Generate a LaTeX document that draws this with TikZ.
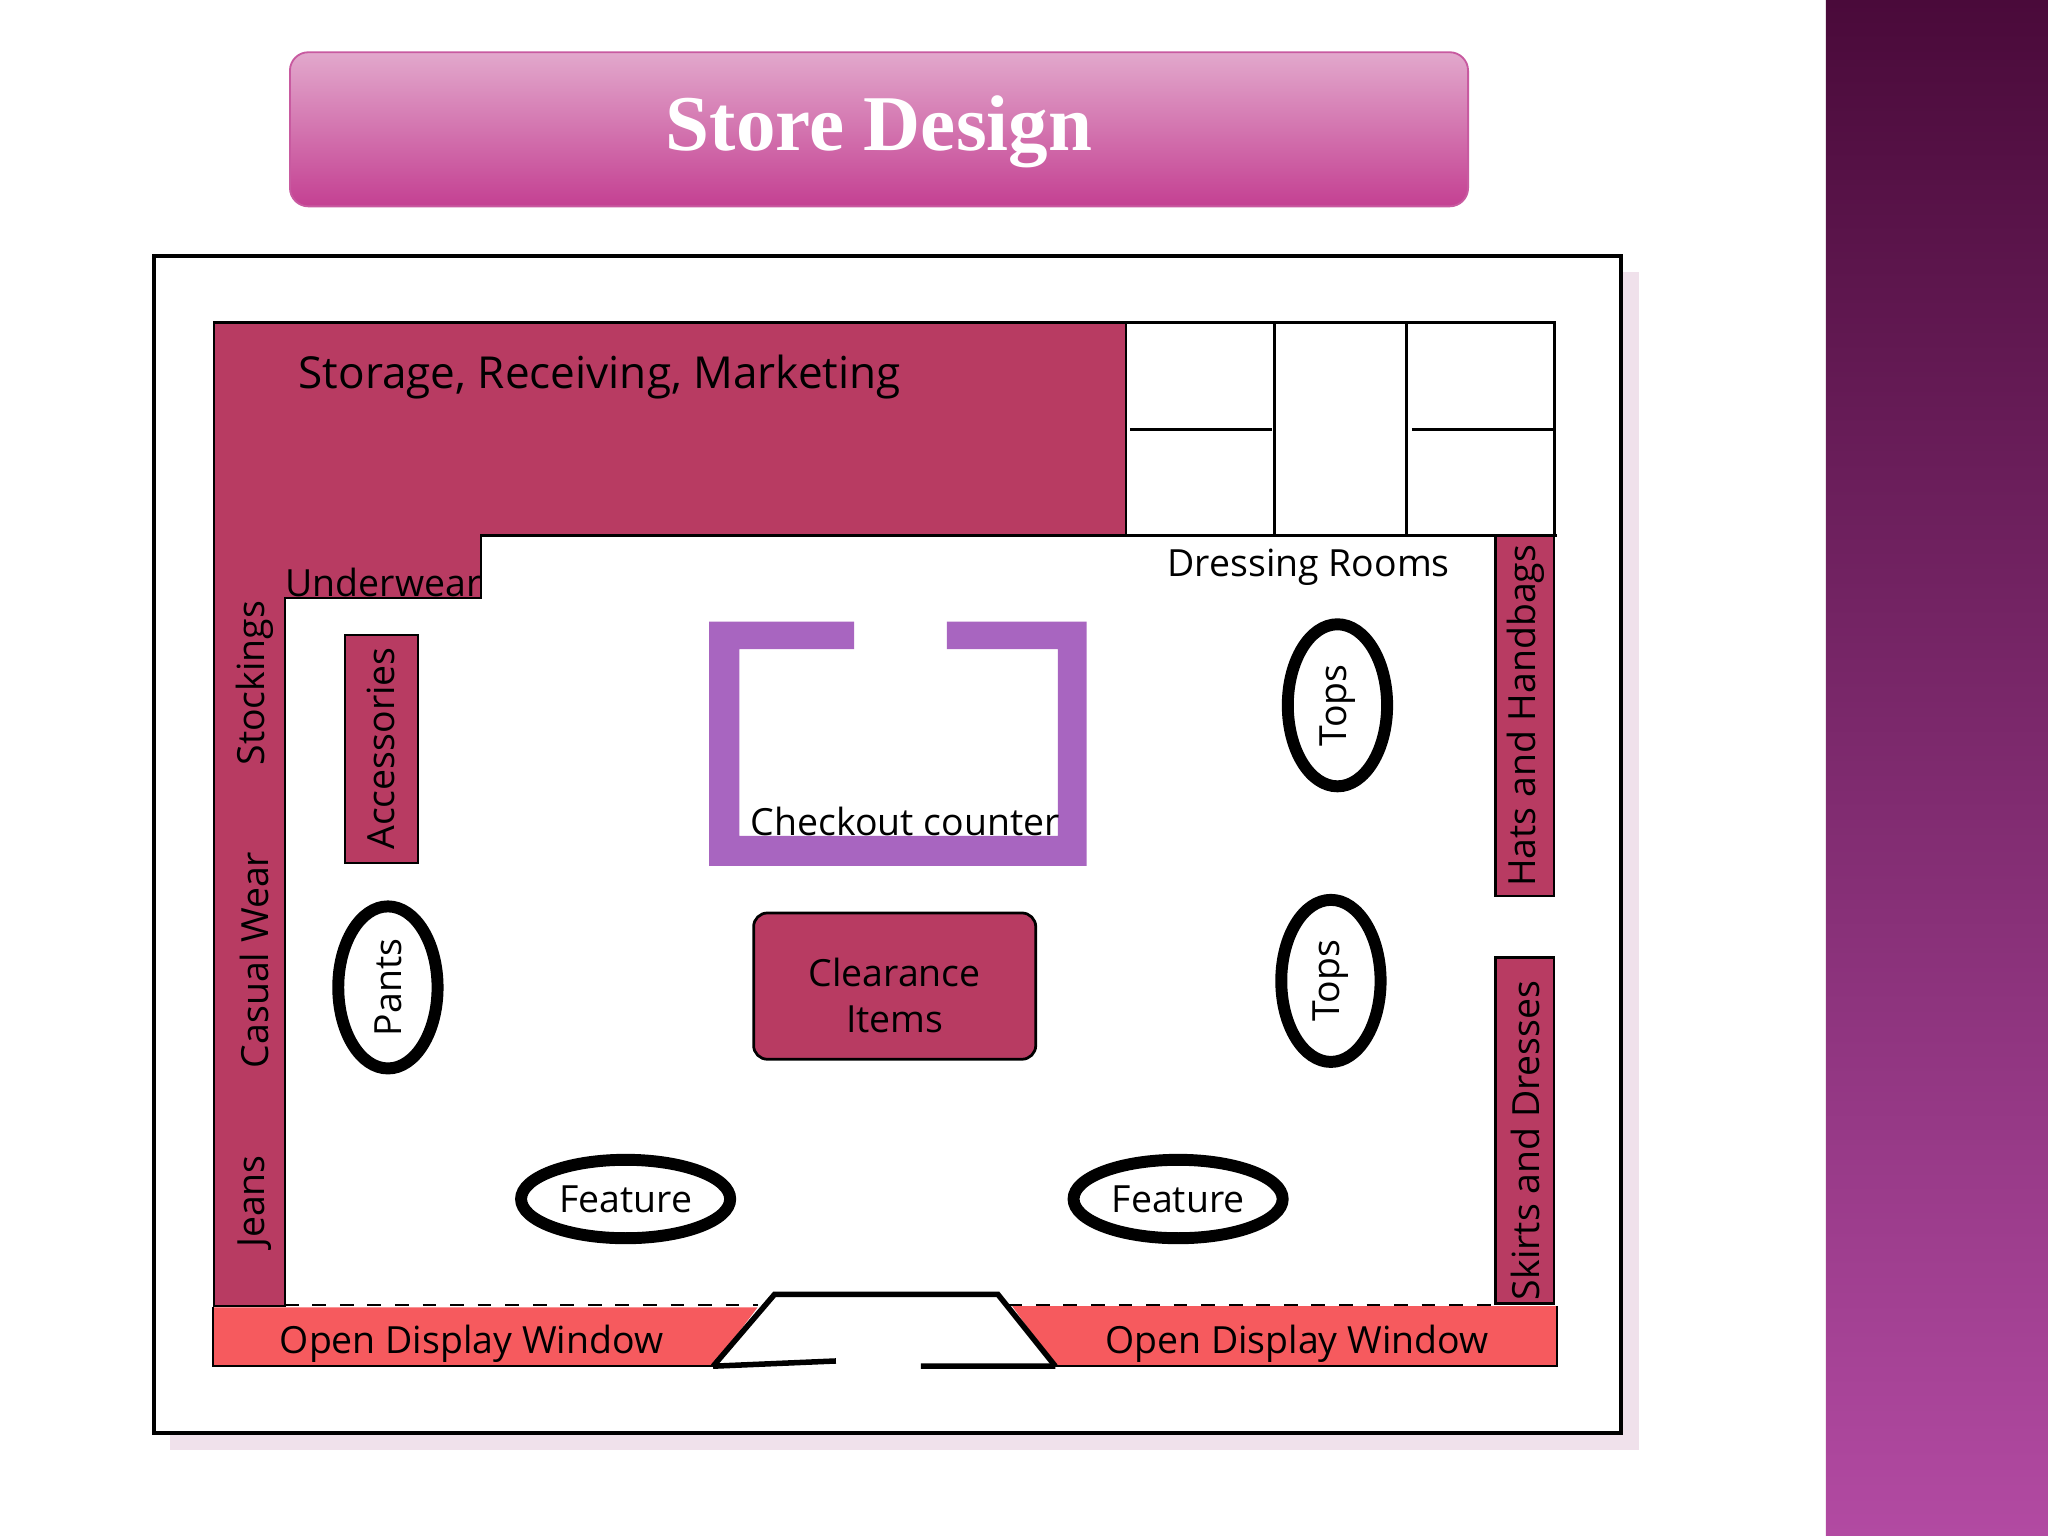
\documentclass[tikz,border=0pt]{standalone}
\usepackage{fontspec}
\setsansfont{Open Sans}
\newfontfamily\titfont{Liberation Serif}
\usetikzlibrary{shapes.geometric}
\definecolor{crim}{HTML}{B83B62}
\definecolor{chk}{HTML}{A865C0}
\definecolor{win}{HTML}{F65A5E}
\definecolor{strtop}{RGB}{74,10,58}
\definecolor{strbot}{RGB}{178,74,162}
\definecolor{tittop}{RGB}{226,168,204}
\definecolor{titbot}{RGB}{196,64,146}
\definecolor{titdraw}{RGB}{200,90,160}
\definecolor{shad}{RGB}{240,225,235}
\tikzset{
 lbl/.style={font=\sffamily\fontsize{8.15}{10}\selectfont,inner sep=0pt},
 rack/.style={ellipse,draw=black,line width=2.6pt,fill=white,inner sep=0pt},
 blk/.style={fill=crim,draw=black,line width=0.5pt}
}
\begin{document}
\begin{tikzpicture}[x=0.01cm,y=-0.01cm]
\useasboundingbox (0,0) rectangle (1568,1176);
\fill[white] (0,0) rectangle (1568,1176);
\shade[top color=strtop,bottom color=strbot] (1398,0) rectangle (1568,1176);
% title
\shade[rounded corners=4pt,top color=tittop,bottom color=titbot,draw=titdraw] (222,40) rectangle (1124,158);
\node[text=white,font=\titfont\bfseries\fontsize{17.2}{20}\selectfont] (title) at (673,101) {Store Design};
% frame
\fill[shad] (130,208) rectangle (1255,1110);
\draw[fill=white,line width=0.8pt] (118,196) rectangle (1241,1097);
% storage
\path[blk] (164,247)--(862,247)--(862,410)--(368,410)--(368,458)--(218,458)--(218,1000)--(164,1000)--cycle;
\node[lbl,anchor=west,font=\sffamily\fontsize{9.6}{12}\selectfont] (stor) at (228,289) {Storage, Receiving, Marketing};
% dressing rooms
\draw[line width=0.6pt] (862,247) rectangle (1190,410);
\draw[line width=0.6pt] (976,247)--(976,410) (1077,247)--(1077,410) (865,329)--(974,329) (1081,329)--(1190,329) (862,410)--(1192,410);
\node[lbl] (dress) at (1002,434) {Dressing Rooms};
\node[lbl,anchor=west] (under) at (218,446) {Underwear};
% side strips
\path[blk] (1145,410) rectangle (1190,686);
\node[lbl,rotate=90] (hats) at (1168,548) {Hats and Handbags};
\path[blk] (1145,733) rectangle (1190,998);
\node[lbl,rotate=90] (skirts) at (1168,873) {Skirts and Dresses};
\node[lbl,rotate=90] (stock) at (195,523) {Stockings};
\node[lbl,rotate=90] (casual) at (195,735) {Casual Wear};
\node[lbl,rotate=90] (jeans) at (195,920) {Jeans};
\path[blk] (264,486) rectangle (320,661);
\node[lbl,rotate=90] (acc) at (292,573) {Accessories};
% checkout
\fill[chk] (543,476)--(654,476)--(654,497)--(566,497)--(566,640)--(810,640)--(810,497)--(725,497)--(725,476)--(832,476)--(832,663)--(543,663)--cycle;
\node[lbl] (check) at (693,629) {Checkout counter};
% clearance
\draw[fill=crim,rounded corners=3pt,line width=0.6pt] (577,699) rectangle (793,811);
\node[lbl,align=center] (clear) at (685,762) {Clearance\\Items};
% racks
\node[rack,minimum width=0.76cm,minimum height=1.24cm] (tops1) at (1024,540) {};
\node[lbl,rotate=90] at (tops1) {Tops};
\node[rack,minimum width=0.76cm,minimum height=1.24cm] (tops2) at (1019,751) {};
\node[lbl,rotate=90] at (tops2) {Tops};
\node[rack,minimum width=0.76cm,minimum height=1.24cm] (pants) at (297,756) {};
\node[lbl,rotate=90] at (pants) {Pants};
\node[rack,minimum width=1.6cm,minimum height=0.6cm] (feat1) at (479,918) {};
\node[lbl] at (feat1) {Feature};
\node[rack,minimum width=1.6cm,minimum height=0.6cm] (feat2) at (902,918) {};
\node[lbl] at (feat2) {Feature};
% windows
\draw[dashed,line width=0.5pt] (218,999)--(580,999) (772,999)--(1145,999);
\fill[win] (163,1001)--(580,1001)--(546,1046)--(163,1046)--cycle;
\draw[line width=0.5pt] (163,1001)--(163,1046)--(546,1046);
\fill[win] (775,1000)--(1192,1000)--(1192,1046)--(808,1046)--cycle;
\draw[line width=0.5pt] (1192,1000)--(1192,1046)--(808,1046);
\draw[fill=white,line width=1.2pt] (546,1046)--(593,991)--(764,991)--(808,1046);
\draw[line width=1.2pt] (546,1046)--(640,1042) (705,1046)--(808,1046);
\node[lbl] (win1) at (361,1029) {Open Display Window};
\node[lbl] (win2) at (993,1029) {Open Display Window};
\end{tikzpicture}
\end{document}
